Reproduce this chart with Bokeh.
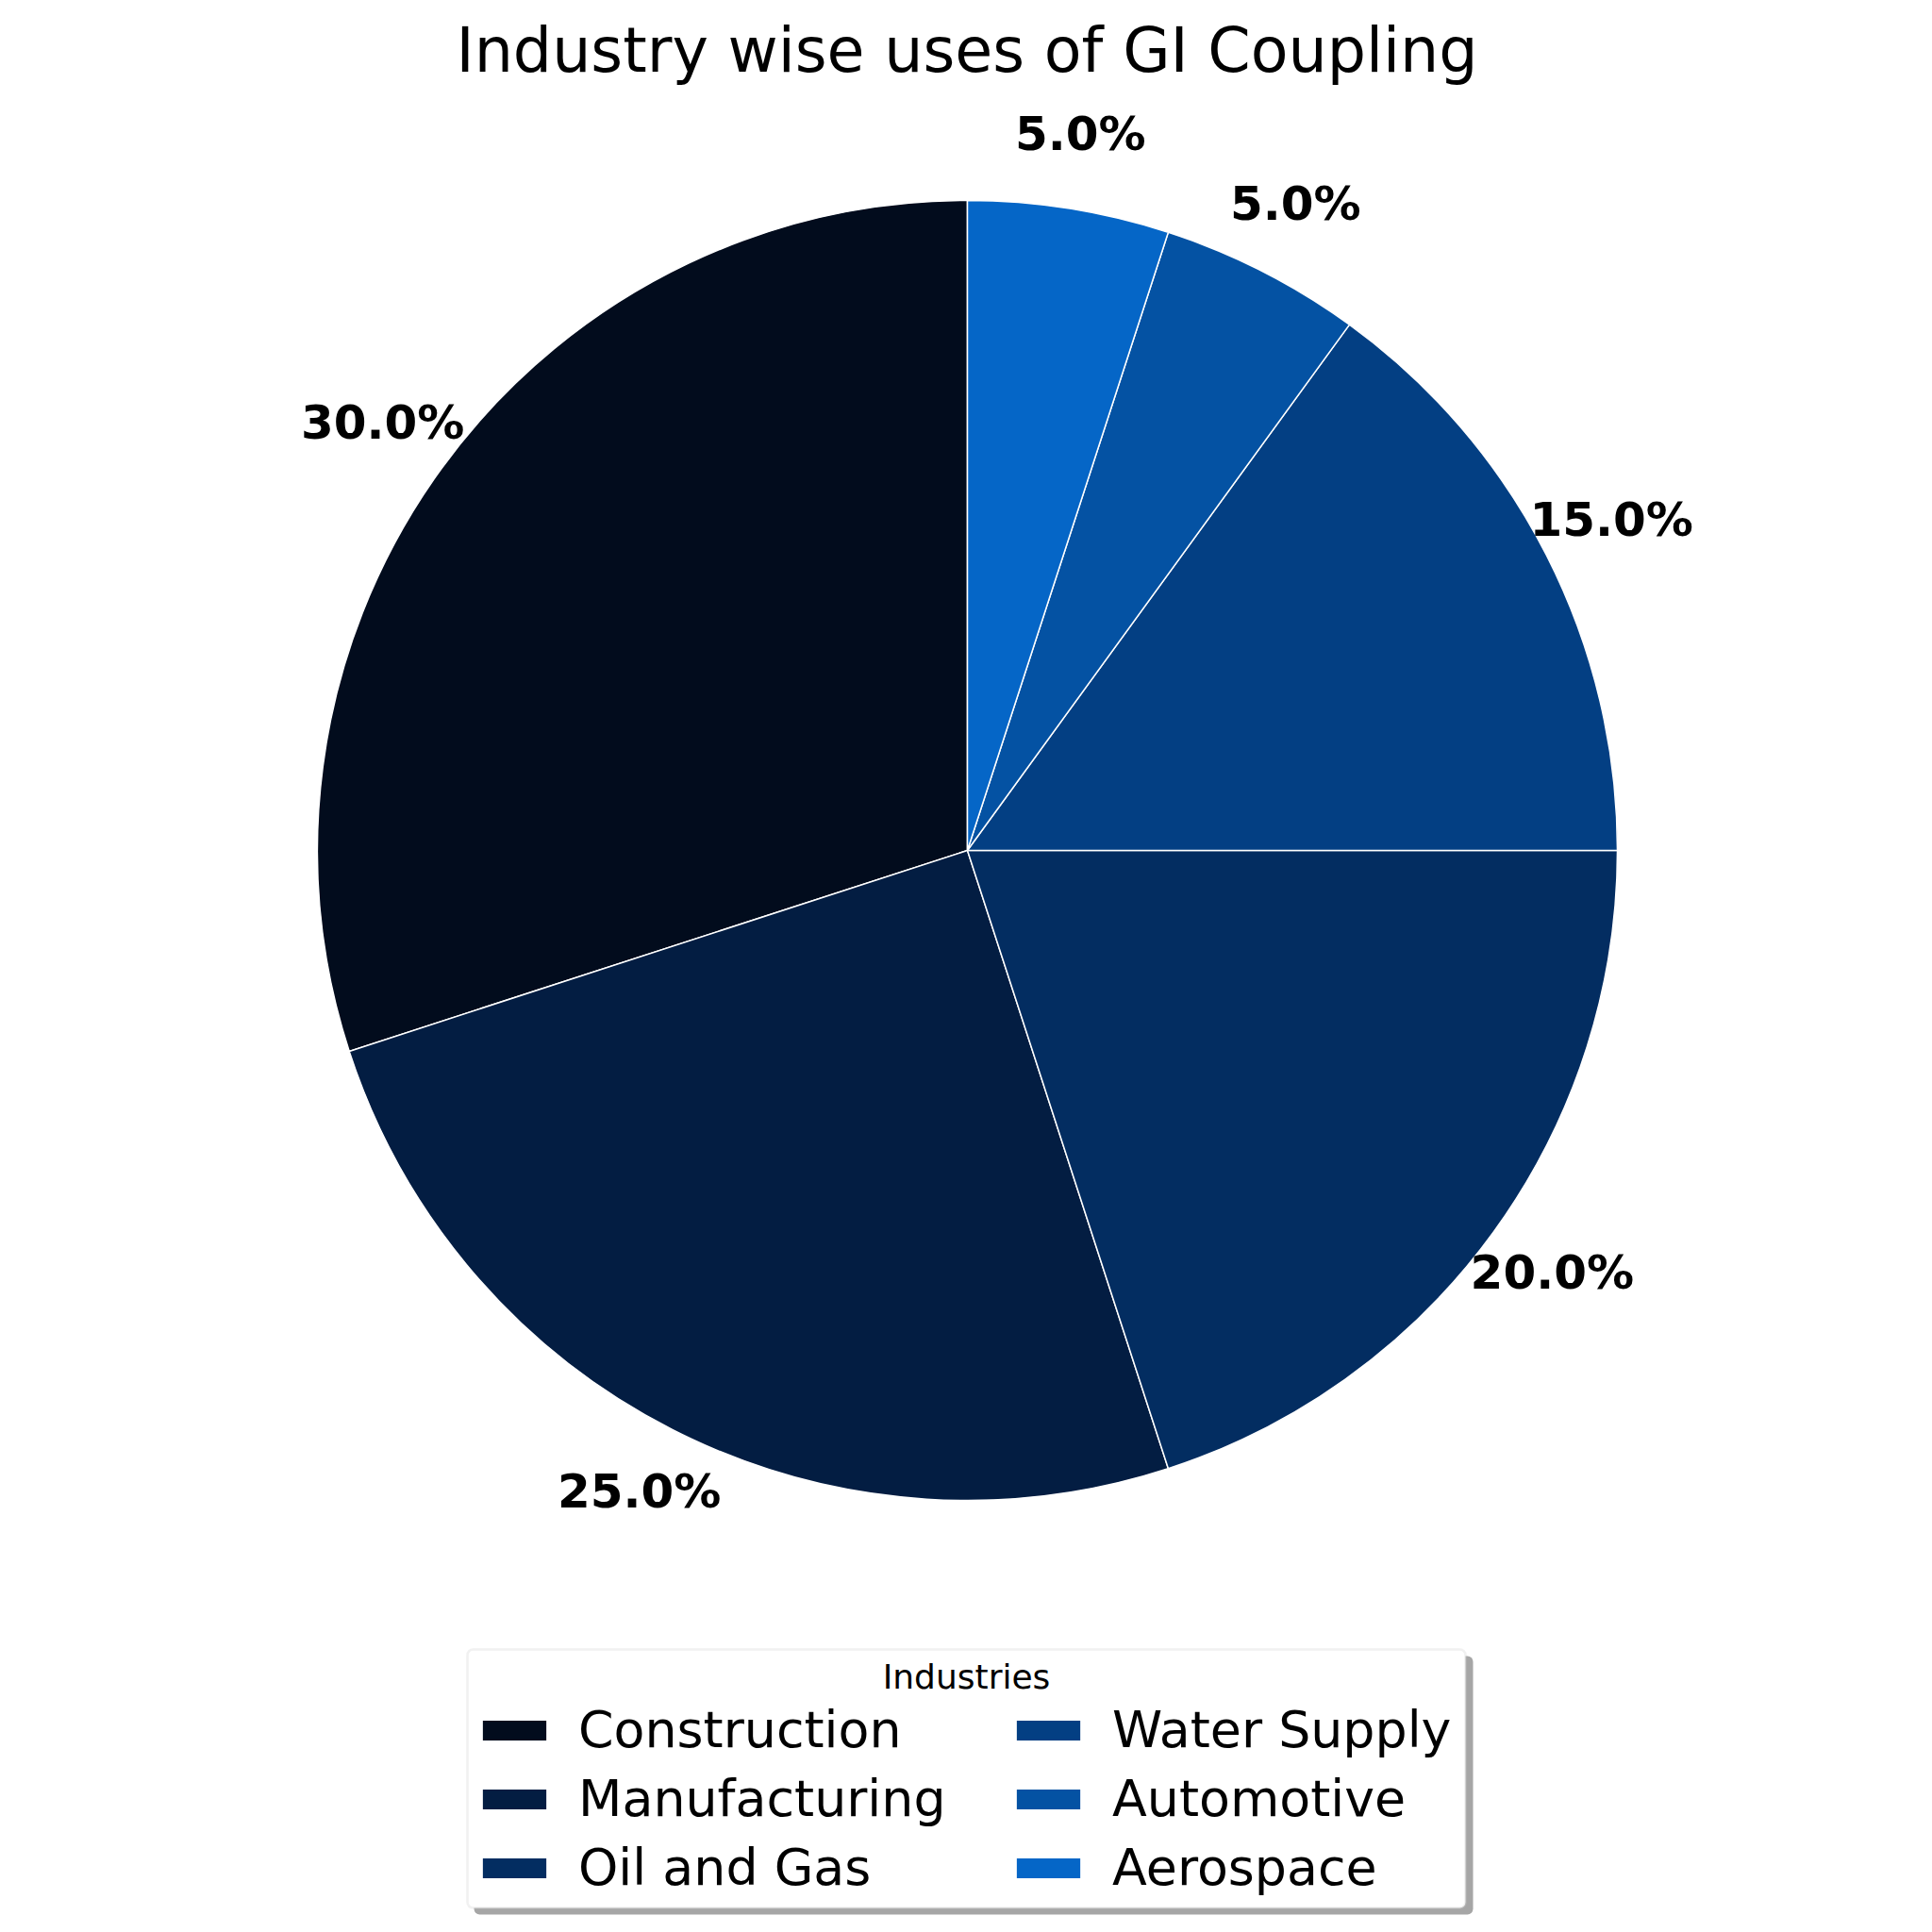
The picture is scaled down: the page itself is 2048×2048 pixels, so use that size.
import math

from bokeh.core.properties import value
from bokeh.embed import file_html
from bokeh.models import BoxAnnotation, ColumnDataSource, Label, Legend, LegendItem, Range1d
from bokeh.plotting import figure
from bokeh.resources import INLINE

industries = ["Construction", "Manufacturing", "Oil and Gas", "Water Supply", "Automotive", "Aerospace"]
shares = [30, 25, 20, 15, 5, 5]
colors = ["#020c1d", "#031d42", "#032d61", "#033f83", "#0452a3", "#0566c7"]

FONT = value("DejaVu Sans")
R_PX = 689  # pie radius in screen px

total = sum(shares)
starts, ends, mids = [], [], []
acc = 0.0
for s in shares:
    a0 = math.pi / 2 + 2 * math.pi * acc / total
    acc += s
    a1 = math.pi / 2 + 2 * math.pi * acc / total
    starts.append(a0)
    ends.append(a1)
    mids.append((a0 + a1) / 2)

label_r = 1.112
source = ColumnDataSource(
    dict(
        industry=industries,
        share=shares,
        color=colors,
        lx=[label_r * math.cos(m) for m in mids],
        ly=[label_r * math.sin(m) for m in mids],
        pct=[f"{100 * s / total:.1f}%" for s in shares],
    )
)

title_h = 95
frame_w, frame_h = 2032, 2032 - title_h
cx, cy = 1025, 901 - title_h  # pie centre inside frame (px from top-left)

p = figure(
    frame_width=frame_w,
    frame_height=frame_h,
    x_range=Range1d(-cx / R_PX, (frame_w - cx) / R_PX),
    y_range=Range1d(-(frame_h - cy) / R_PX, cy / R_PX),
    x_axis_location=None,
    y_axis_location=None,
    toolbar_location=None,
    output_backend="svg",
    min_border=0,
    min_border_top=title_h,
    title="Industry wise uses of GI Coupling",
)
p.grid.visible = False
p.outline_line_color = None
p.title.align = "left"
p.title.offset = 483
p.title.text_font = "DejaVu Sans"
p.title.text_font_size = "65px"
p.title.text_font_style = "normal"
p.title.text_color = "black"

# legend frame: drop shadow + white box (screen px from bottom-left of frame)
shadow = BoxAnnotation(
    left=502, right=1561, bottom=3, top=277,
    left_units="screen", right_units="screen", bottom_units="screen", top_units="screen",
    fill_color="#a6a6a6", fill_alpha=1.0, line_color=None, border_radius=6,
)
box = BoxAnnotation(
    left=495, right=1553, bottom=10, top=284,
    left_units="screen", right_units="screen", bottom_units="screen", top_units="screen",
    fill_color="white", fill_alpha=1.0, line_color="#d0d0d0", line_width=2.5, border_radius=6,
)
p.add_layout(shadow)
p.add_layout(box)

items = []
for i, name in enumerate(industries):
    r = p.wedge(
        x=0, y=0, radius=1,
        start_angle=starts[i], end_angle=ends[i],
        fill_color=colors[i], line_color="white", line_width=1.5,
    )
    items.append(LegendItem(label=name, renderers=[r]))

p.text(
    x="lx", y="ly", text="pct", source=source,
    text_font=FONT, text_font_style="bold", text_font_size="50px",
    text_align="center", text_baseline="middle", text_color="black",
    y_offset=-3,
)

legend = Legend(
    items=items,
    ncols=2,
    location=(502, 21),
    margin=0,
    padding=17,
    spacing=10,
    label_text_font="DejaVu Sans",
    label_text_font_size="53.8px",
    label_text_color="black",
    label_standoff=25,
    label_width=445,
    glyph_width=86,
    glyph_height=28,
    border_line_color=None,
    background_fill_alpha=0.0,
)
p.add_layout(legend)

p.add_layout(
    Label(
        x=1024, y=255, x_units="screen", y_units="screen",
        text="Industries", text_font="DejaVu Sans", text_font_size="36px",
        text_align="center", text_baseline="alphabetic", text_color="black",
    )
)

open("out.html", "w").write(file_html(p, INLINE))
